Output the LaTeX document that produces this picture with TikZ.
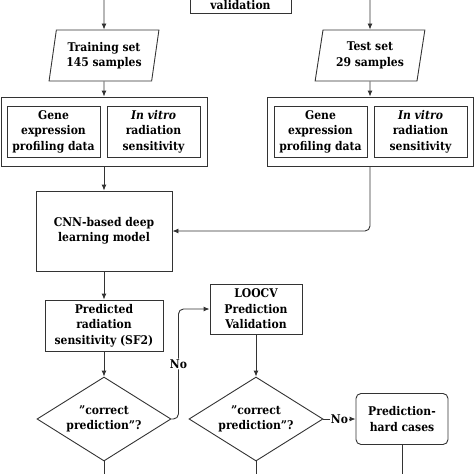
\documentclass[tikz,border=0pt]{standalone}
\usepackage{fontspec}
\setmainfont{DejaVu Serif Condensed}
\usetikzlibrary{shapes.geometric,arrows.meta}
\definecolor{lc}{HTML}{333333}
\begin{document}
\begin{tikzpicture}[x=1pt,y=-1pt,
  every node/.style={font=\bfseries\fontsize{12}{15.5}\selectfont, align=center, text=black},
  box/.style={draw=lc, line width=0.9pt, rectangle, inner sep=0pt},
  para/.style={draw=lc, line width=0.9pt, trapezium, trapezium left angle=78, trapezium right angle=102, trapezium stretches=true, minimum width=110pt, minimum height=51pt, inner sep=0pt},
  dia/.style={draw=lc, line width=0.9pt, diamond, minimum width=134pt, minimum height=84pt, inner sep=0pt},
  ln/.style={draw=lc, line width=0.9pt},
  arr/.style={ln, -{Latex[length=6pt,width=5pt]}},
  nolab/.style={fill=white, inner sep=1pt}]
\useasboundingbox (0,0) rectangle (474,474);
\clip (0,0) rectangle (474,474);
% top
\node[box, minimum width=101pt, minimum height=40pt] (val) at (240.5,-7) {};
\node (valt) at (240.5,5) {validation};
\coordinate (tl) at (104,-5);
\coordinate (tr) at (370,-5);
\node[para] (train) at (104,55.5) {Training set\\145 samples};
\node[para] (test) at (370,55.5) {Test set\\29 samples};
\draw[arr] (tl) -- (train);
\draw[arr] (tr) -- (test);
% data boxes
\node[box, minimum width=206pt, minimum height=69pt] (lo) at (104,131.5) {};
\node[box, minimum width=93pt, minimum height=51pt] (g1) at (53.5,131.5) {Gene\\expression\\profiling data};
\node[box, minimum width=93pt, minimum height=51pt] (v1) at (153.5,131.5) {\textit{In vitro}\\radiation\\sensitivity};
\node[box, minimum width=206pt, minimum height=69pt] (ro) at (370,131.5) {};
\node[box, minimum width=93pt, minimum height=51pt] (g2) at (320.5,131.5) {Gene\\expression\\profiling data};
\node[box, minimum width=93pt, minimum height=51pt] (v2) at (420.5,131.5) {\textit{In vitro}\\radiation\\sensitivity};
\draw[arr] (train) -- (lo);
\draw[arr] (test) -- (ro);
% model
\node[box, minimum width=136pt, minimum height=80pt] (cnn) at (104,231) {CNN-based deep\\learning model};
\draw[arr] (lo) -- (cnn);
\draw[arr, rounded corners=5pt] (ro.south) |- (cnn.east);
\node[box, minimum width=118pt, minimum height=51pt] (pred) at (104,325.5) {Predicted\\radiation\\sensitivity (SF2)};
\draw[arr] (cnn) -- (pred);
\node[box, minimum width=92pt, minimum height=50pt] (loocv) at (256,309) {LOOCV\\Prediction\\Validation};
\node[dia] (d1) at (104,419) {};
\node (d1t) at (104,419) {"correct\\prediction"?};
\node[dia] (d2) at (256,419) {};
\node (d2t) at (256,419) {"correct\\prediction"?};
\node[box, rounded corners=5pt, minimum width=92pt, minimum height=51pt] (hard) at (402,419) {Prediction-\\hard cases};
\draw[arr] (pred) -- (d1);
\draw[arr, rounded corners=5pt] (d1.east) -- ++(7,0) |- node[pos=0.25, nolab] {No} (loocv.west);
\draw[arr] (loocv) -- (d2);
\draw[arr] (d2.east) -- node[nolab] {No} (hard.west);
% bottom
\coordinate (b1) at (104,480);
\coordinate (b2) at (256,480);
\coordinate (b3) at (402,480);
\draw[ln] (d1.south) -- (b1);
\draw[ln] (d2.south) -- (b2);
\draw[ln] (hard.south) -- (b3);
\end{tikzpicture}
\end{document}
